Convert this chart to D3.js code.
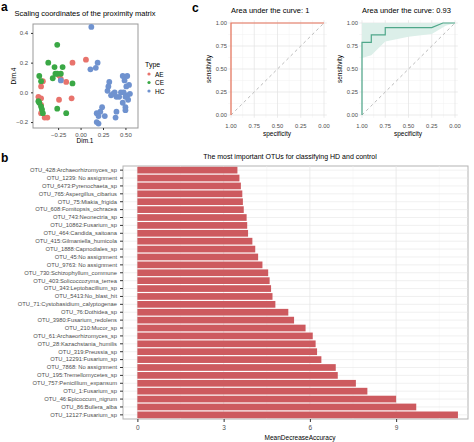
<!DOCTYPE html>
<html><head><meta charset="utf-8">
<script src="https://cdn.jsdelivr.net/npm/d3@7"></script>
<style>body{margin:0;background:#fff}text{font-family:"Liberation Sans",Arial,sans-serif}</style>
</head><body><div id="c"></div>
<script>
// panel a: MDS points [dim1, dim4]
var ptsAE=[[0.06,0.22],[-0.09,0.2],[-0.16,0.07],[-0.22,0.09],[-0.24,0.115],[-0.42,0.075],[-0.44,0.04],[-0.47,-0.03],[-0.44,-0.04],[-0.24,-0.05],[-0.1,-0.04],[-0.44,-0.085],[-0.4,-0.17],[-0.37,-0.17],[-0.44,-0.14]];
var ptsCE=[[-0.26,0.32],[-0.36,0.2],[-0.2,0.17],[-0.29,0.17],[-0.46,0.11],[-0.44,0.075],[-0.28,0.125],[-0.31,0.095],[-0.26,0.125],[-0.22,0.125],[-0.09,0.06],[-0.46,-0.07],[-0.44,-0.095],[-0.43,-0.115],[-0.42,-0.14],[-0.26,-0.11],[-0.16,-0.14],[-0.47,-0.06]];
var ptsHC=[[0.12,0.44],[0.19,0.2],[0.17,0.165],[0.11,0.155],[-0.22,0.08],[0.32,0.07],[0.31,0.04],[0.47,0.11],[0.52,0.11],[0.49,0.08],[0.54,0.05],[0.51,0.04],[0.45,0.0],[0.38,0.0],[0.34,-0.02],[0.4,-0.03],[0.48,0.0],[0.55,-0.01],[0.52,-0.02],[0.5,-0.03],[0.53,-0.05],[0.47,-0.07],[0.5,-0.1],[0.5,-0.12],[0.24,-0.1],[0.22,-0.13],[0.4,-0.13],[0.18,-0.14],[0.2,-0.16],[0.27,-0.16],[0.39,-0.17],[0.18,-0.2],[0.2,-0.21],[0.43,-0.03],[0.36,-0.01],[0.3,0.01]];
// panel c: ROC curves [specificity, sensitivity]
var roc1=[[1,0],[1,1],[0,1]];
var roc2=[[1,0],[1,0.79],[0.9,0.79],[0.9,0.87],[0.75,0.87],[0.75,0.95],[0.25,0.95],[0.13,1],[0,1]];
var ci2Low=[[1,0.62],[0.9,0.65],[0.75,0.8],[0.5,0.85],[0.25,0.88],[0.1,0.97],[0,1]];
// panel b: importance
var otus=["OTU_428:Archaeorhizomyces_sp","OTU_1239: No assignment","OTU_6473:Pyrenochaeta_sp","OTU_765:Aspergillus_cibarius","OTU_75:Miakia_frigida","OTU_608:Fomitopsis_ochracea","OTU_743:Neonectria_sp","OTU_10862:Fusarium_sp","OTU_464:Candida_saitoana","OTU_415:Gilmaniella_humicola","OTU_1888:Capnodiales_sp","OTU_45:No assignment","OTU_9763: No assignment","OTU_730:Schizophyllum_commune","OTU_403:Solicoccozyma_terrea","OTU_343:Leptobacillium_sp","OTU_5413:No_blast_hit","OTU_71:Cystobasidium_calyptogenae","OTU_76:Dothidea_sp","OTU_3980:Fusarium_redolens","OTU_210:Mucor_sp","OTU_61:Archaeorhizomyces_sp","OTU_28:Kazachstania_humilis","OTU_319:Preussia_sp","OTU_12291:Fusarium_sp","OTU_7868: No assignment","OTU_195:Tremellomycetes_sp","OTU_757:Penicillium_expansum","OTU_1:Fusarium_sp","OTU_46:Epicoccum_nigrum","OTU_86:Bullera_alba","OTU_12127:Fusarium_sp"];
var mda=[3.48,3.55,3.6,3.65,3.67,3.7,3.8,3.82,3.85,4.0,4.1,4.2,4.35,4.55,4.6,4.65,4.7,4.8,5.25,5.45,5.85,6.1,6.2,6.25,6.4,6.9,6.97,7.6,8.0,9.0,9.7,11.15];

var svg=d3.select("#c").append("svg").attr("width",474).attr("height",442);
var grey="#4d4d4d";
function lab(t,x,y){svg.append("text").attr("x",x).attr("y",y).attr("font-size",12).attr("font-weight","bold").text(t);}
lab("a",1,11);lab("c",192,12);lab("b",1,162);

// ---- panel a
var xa=d3.scaleLinear().domain([-0.53,0.64]).range([33,138]);
var ya=d3.scaleLinear().domain([-0.24,0.46]).range([128,24]);
svg.append("text").attr("x",85).attr("y",16).attr("text-anchor","middle").attr("font-size",7.5).text("Scaling coordinates of the proximity matrix");
var ga=svg.append("g");
ga.append("rect").attr("x",33).attr("y",24).attr("width",105).attr("height",104).attr("fill","#fff").attr("stroke","#999");
[["AE",ptsAE,"#e8736c"],["CE",ptsCE,"#3aa845"],["HC",ptsHC,"#6f92cf"]].forEach(function(s){
  ga.selectAll(null).data(s[1]).enter().append("circle").attr("cx",function(d){return xa(d[0]);}).attr("cy",function(d){return ya(d[1]);}).attr("r",2.9).attr("fill",s[2]);
});
var axb=svg.append("g").attr("transform","translate(0,128)").call(d3.axisBottom(xa).tickValues([-0.25,0,0.25,0.5]).tickFormat(d3.format(".2f")).tickSize(2));
var axl=svg.append("g").attr("transform","translate(33,0)").call(d3.axisLeft(ya).tickValues([-0.2,0,0.2,0.4]).tickFormat(d3.format(".1f")).tickSize(2));
[axb,axl].forEach(function(a){a.select(".domain").remove();a.selectAll("text").attr("font-size",6).attr("fill",grey);a.selectAll("line").attr("stroke","#333");});
svg.append("text").attr("x",85).attr("y",143).attr("text-anchor","middle").attr("font-size",6.5).text("Dim.1");
svg.append("text").attr("transform","translate(16,76) rotate(-90)").attr("text-anchor","middle").attr("font-size",6.5).text("Dim.4");
svg.append("text").attr("x",145).attr("y",67).attr("font-size",7).text("Type");
[["AE","#e8736c"],["CE","#3aa845"],["HC","#6f92cf"]].forEach(function(d,i){
  svg.append("circle").attr("cx",149).attr("cy",74+i*8.5).attr("r",1.6).attr("fill",d[1]);
  svg.append("text").attr("x",155).attr("y",76.5+i*8.5).attr("font-size",6.5).text(d[0]);
});

// ---- panel c
function roc(x0,title,curve,low,col,fill){
  var x=d3.scaleLinear().domain([1,0]).range([x0,x0+93]);
  var y=d3.scaleLinear().domain([0,1]).range([115,23]);
  var g=svg.append("g");
  var t=[0,0.25,0.5,0.75,1],m=[0.125,0.375,0.625,0.875];
  g.selectAll(null).data(m).enter().append("line").attr("x1",x).attr("x2",x).attr("y1",y(-0.03)).attr("y2",y(1.03)).attr("stroke","#f0f0f0").attr("stroke-width",0.5);
  g.selectAll(null).data(m).enter().append("line").attr("y1",y).attr("y2",y).attr("x1",x(1.03)).attr("x2",x(-0.03)).attr("stroke","#f0f0f0").attr("stroke-width",0.5);
  g.selectAll(null).data(t).enter().append("line").attr("x1",x).attr("x2",x).attr("y1",y(-0.03)).attr("y2",y(1.03)).attr("stroke","#e3e3e3").attr("stroke-width",0.7);
  g.selectAll(null).data(t).enter().append("line").attr("y1",y).attr("y2",y).attr("x1",x(1.03)).attr("x2",x(-0.03)).attr("stroke","#e3e3e3").attr("stroke-width",0.7);
  if(low){
    var top=low.map(function(d){return [d[0],1];});
    g.append("path").datum(low.concat(top.reverse())).attr("fill",fill).attr("d",d3.line().x(function(d){return x(d[0]);}).y(function(d){return y(d[1]);}));
  }
  g.append("line").attr("x1",x(1)).attr("y1",y(0)).attr("x2",x(0)).attr("y2",y(1)).attr("stroke","#bbb").attr("stroke-dasharray","3,3");
  g.append("path").datum(curve).attr("fill","none").attr("stroke",col).attr("stroke-width",1.2).attr("d",d3.line().x(function(d){return x(d[0]);}).y(function(d){return y(d[1]);}));
  var fmt=d3.format(".2f");
  t.forEach(function(v){
    g.append("text").attr("x",x(v)).attr("y",128).attr("text-anchor","middle").attr("font-size",5.8).attr("fill",grey).text(fmt(v));
    g.append("text").attr("x",x0-4).attr("y",y(v)+2).attr("text-anchor","end").attr("font-size",5.8).attr("fill",grey).text(fmt(v));
  });
  g.append("text").attr("x",x0+46).attr("y",136).attr("text-anchor","middle").attr("font-size",6.5).text("specificity");
  g.append("text").attr("transform","translate("+(x0-20)+",69) rotate(-90)").attr("text-anchor","middle").attr("font-size",6.5).text("sensitivity");
  g.append("text").attr("x",x0).attr("y",13).attr("font-size",7.5).text(title);
}
roc(231,"Area under the curve: 1",roc1,null,"#e8735a");
roc(362,"Area under the curve: 0.93",roc2,ci2Low,"#4fa78a","#dcefe9");

// ---- panel b
var xb=d3.scaleLinear().domain([-0.5,11.5]).range([123,468]);
var yb=d3.scaleBand().domain(otus).range([166,419]).paddingInner(0.15).paddingOuter(0.1);
var gb=svg.append("g");
gb.append("text").attr("x",290).attr("y",159).attr("text-anchor","middle").attr("font-size",7).text("The most important OTUs for classifying HD and control");
gb.append("rect").attr("x",123).attr("y",166).attr("width",345).attr("height",253).attr("fill","#fff").attr("stroke","#b3b3b3");
gb.selectAll(null).data([1.5,4.5,7.5,10.5]).enter().append("line").attr("x1",xb).attr("x2",xb).attr("y1",166).attr("y2",419).attr("stroke","#f2f2f2").attr("stroke-width",0.5);
gb.selectAll(null).data([0,3,6,9]).enter().append("line").attr("x1",xb).attr("x2",xb).attr("y1",166).attr("y2",419).attr("stroke","#e6e6e6").attr("stroke-width",0.8);
gb.selectAll(null).data(otus).enter().append("line").attr("x1",123).attr("x2",468).attr("y1",function(d){return yb(d)+yb.bandwidth()/2;}).attr("y2",function(d){return yb(d)+yb.bandwidth()/2;}).attr("stroke","#e6e6e6").attr("stroke-width",0.6);
gb.selectAll(".bar").data(mda).enter().append("rect").attr("class","bar")
  .attr("x",xb(0)).attr("y",function(d,i){return yb(otus[i]);})
  .attr("width",function(d){return xb(d)-xb(0);}).attr("height",yb.bandwidth()).attr("fill","#cd5a5f");
var ax=svg.append("g").attr("transform","translate(0,419)").call(d3.axisBottom(xb).tickValues([0,3,6,9]).tickSize(3));
var ay=svg.append("g").attr("transform","translate(123,0)").call(d3.axisLeft(yb).tickSize(3));
[ax,ay].forEach(function(a){a.select(".domain").remove();a.selectAll("line").attr("stroke","#333");a.selectAll("text").attr("fill",grey);});
ax.selectAll("text").attr("font-size",6.5);
ay.selectAll("text").attr("font-size",5.8);
svg.append("text").attr("x",300).attr("y",440).attr("text-anchor","middle").attr("font-size",6.5).text("MeanDecreaseAccuracy");
</script></body></html>
